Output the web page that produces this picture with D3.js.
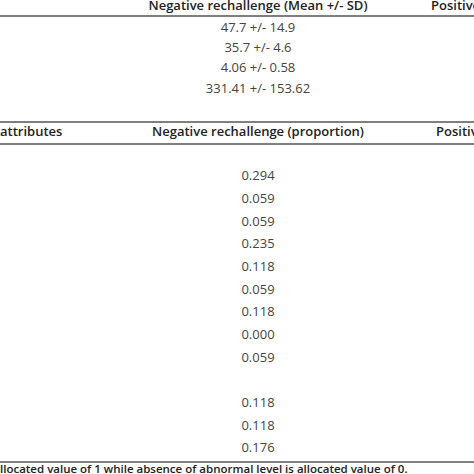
<!DOCTYPE html>
<html><head><meta charset="utf-8">
<script src="https://cdn.jsdelivr.net/npm/d3@7"></script>
<style>body{margin:0;background:#fff}</style></head>
<body><div id="chart"></div>
<script>
var meanValues = ["47.7 +/- 14.9", "35.7 +/- 4.6", "4.06 +/- 0.58", "331.41 +/- 153.62"];
var meanRows = [29, 49, 69, 90];
var proportions = ["0.294", "0.059", "0.059", "0.235", "0.118", "0.059", "0.118", "0.000", "0.059", "", "0.118", "0.118", "0.176"];
var footnote = "llocated value of 1 while absence of abnormal level is allocated value of 0.";

var svg = d3.select("#chart").append("svg").attr("width", 474).attr("height", 474);
var font = "'Open Sans', 'Noto Sans', sans-serif";

function hline(y, w) {
  svg.append("line").attr("x1", 0).attr("x2", 474).attr("y1", y).attr("y2", y)
    .attr("stroke", "#555").attr("stroke-width", w);
}
function txt(x, y, s, opts) {
  opts = opts || {};
  svg.append("text").attr("x", x).attr("y", y).attr("text-anchor", opts.anchor || "middle")
    .attr("dominant-baseline", "middle").attr("font-family", font)
    .attr("font-size", opts.size || 13).attr("font-weight", opts.bold ? 600 : 400)
    .attr("fill", opts.bold ? "#222" : "#444").text(s);
}

// table 1 header
txt(258, 7, "Negative rechallenge (Mean +/- SD)", {bold: true});
txt(431, 7, "Positive", {bold: true, anchor: "start"});
hline(16, 1.5);

var y1 = d3.scaleOrdinal().domain(meanValues).range(meanRows);
meanValues.forEach(function (v) { txt(258, y1(v), v); });

// table 2
hline(122, 1.5);
txt(0, 133, "attributes", {bold: true, anchor: "start"});
txt(258, 133, "Negative rechallenge (proportion)", {bold: true});
txt(436, 133, "Positiv", {bold: true, anchor: "start"});
hline(144, 1.5);

var y2 = d3.scaleLinear().domain([0, proportions.length - 1]).range([177, 449]);
proportions.forEach(function (v, i) { if (v) txt(258, y2(i), v); });

hline(462, 1.5);
txt(0, 470, footnote, {anchor: "start", size: 11.5, bold: true});
</script></body></html>
